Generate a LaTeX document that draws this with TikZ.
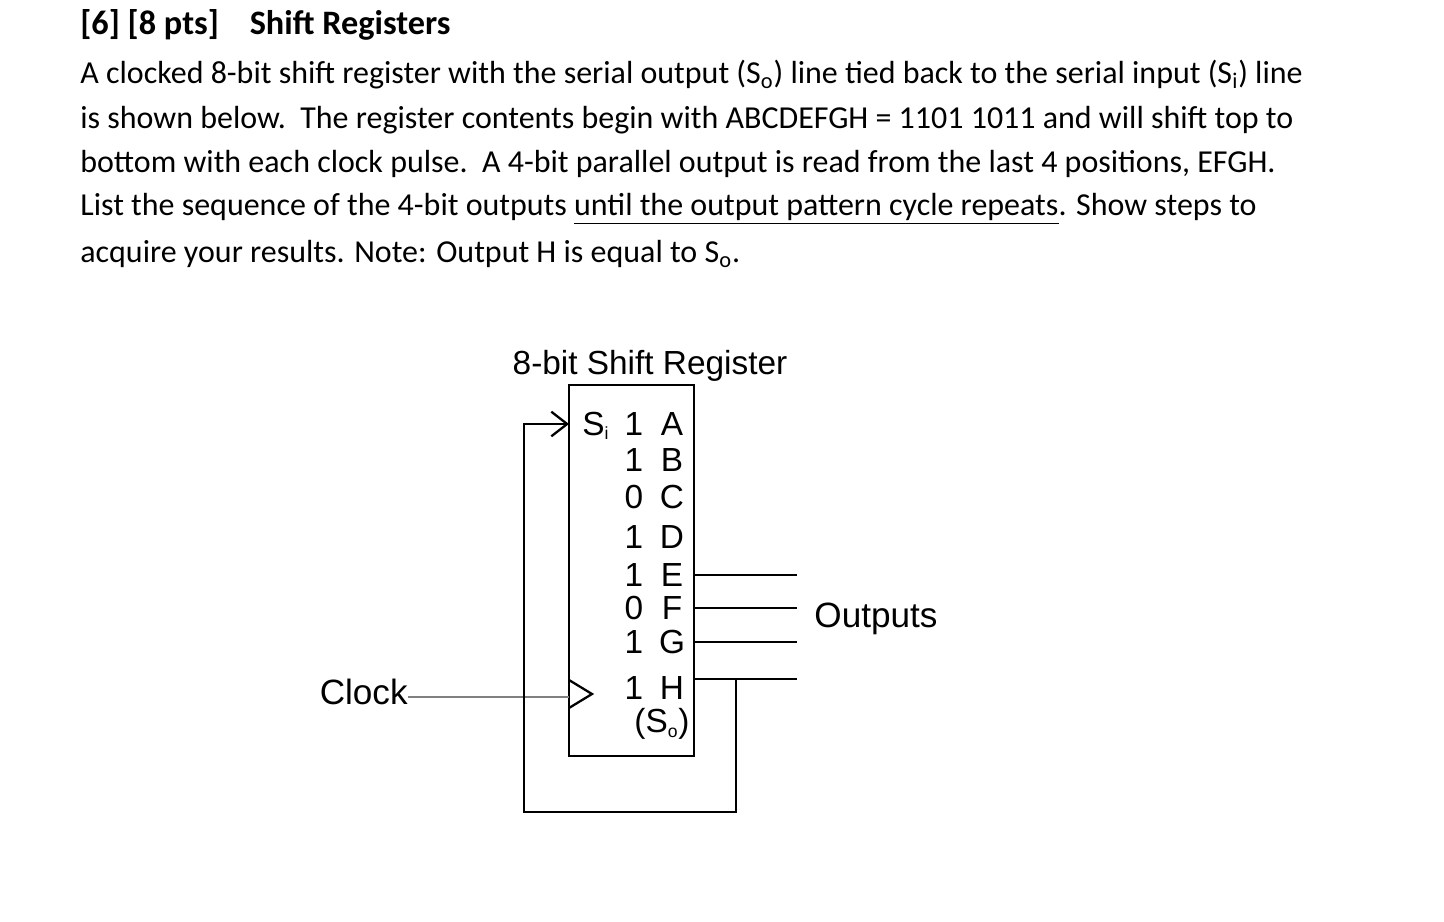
\documentclass[tikz,border=0pt]{standalone}
\usepackage{fontspec}
\setmainfont{Carlito}
\newfontfamily\diagfont{Liberation Sans}
\usetikzlibrary{positioning, arrows.meta}

\begin{document}
\begin{tikzpicture}[x=0.02cm, y=-0.02cm,
    line/.style={draw=black, line width=1.3pt},
    body/.style={anchor=west, inner sep=0pt, font=\fontsize{18.2}{20}\selectfont},
    diag/.style={inner sep=0pt, font=\diagfont\fontsize{19}{22}\selectfont},
    cell/.style={inner sep=0pt, font=\diagfont\fontsize{19}{22}\selectfont}]

% Define a variable for spacing
\useasboundingbox (0,0) rectangle (1444,922);

% Question text
\node[body, font=\bfseries\fontsize{19.5}{22}\selectfont] (title) at (80,25) {[6] [8 pts]\hspace{0.9em}Shift Registers};
\node[body] (t1) at (80,75) {A clocked 8-bit shift register with the serial output (S\textsubscript{o}) line tied back to the serial input (S\textsubscript{i}) line};
\node[body] (t2) at (80,120) {is shown below.\ \ The register contents begin with ABCDEFGH = 1101 1011 and will shift top to};
\node[body] (t3) at (80,164) {bottom with each clock pulse.\ \ A 4-bit parallel output is read from the last 4 positions, EFGH.};
\node[body] (t4) at (80,209) {List the sequence of the 4-bit outputs \underline{until the output pattern cycle repeats}. Show steps to};
\node[body] (t5) at (80,254) {acquire your results. Note: Output H is equal to S\textsubscript{o}.};

% Register box
\node[diag] (name) at (650,366) {8-bit Shift Register};
\draw[line] (569,385) rectangle (694,756);
\node[cell] (si) at (596,426) {S\textsubscript{\fontsize{10}{10}\selectfont i}};

% Bits and positions
\foreach \b/\l/\y in {1/A/424, 1/B/460, 0/C/497, 1/D/537, 1/E/575, 0/F/608, 1/G/642, 1/H/688} {
    \node[cell] (bit\l) at (634,\y) {\b};
    \node[cell] (pos\l) at (672,\y) {\l};
}
\node[cell] (so) at (662,724) {(S\textsubscript{\fontsize{10}{10}\selectfont o})};

% Outputs
\foreach \l/\y in {E/575, F/608, G/642, H/679} {
    \coordinate (in\l) at (694,\y);
    \coordinate (out\l) at (797,\y);
    \draw[line] (in\l) -- (out\l);
}
\node[diag, font=\diagfont\fontsize{20}{22}\selectfont] (outputs) at (876,619) {Outputs};

% Clock
\node[diag, font=\diagfont\fontsize{20}{22}\selectfont, anchor=east] (clock) at (408,692) {Clock};
\coordinate (clk) at (569,697);
\draw[gray, line width=1pt] (clock.east |- clk) -- (clk);
\draw[line] (569,680) -- (592,694) -- (569,708);

% Feedback loop
\coordinate (tap) at (736,679);
\coordinate (sin) at (569,424);
\draw[line, -{Straight Barb[length=9pt, width=14pt]}] (tap) -- (736,812) -- (524,812) -- (524,424) -- (sin);

\end{tikzpicture}
\end{document}
